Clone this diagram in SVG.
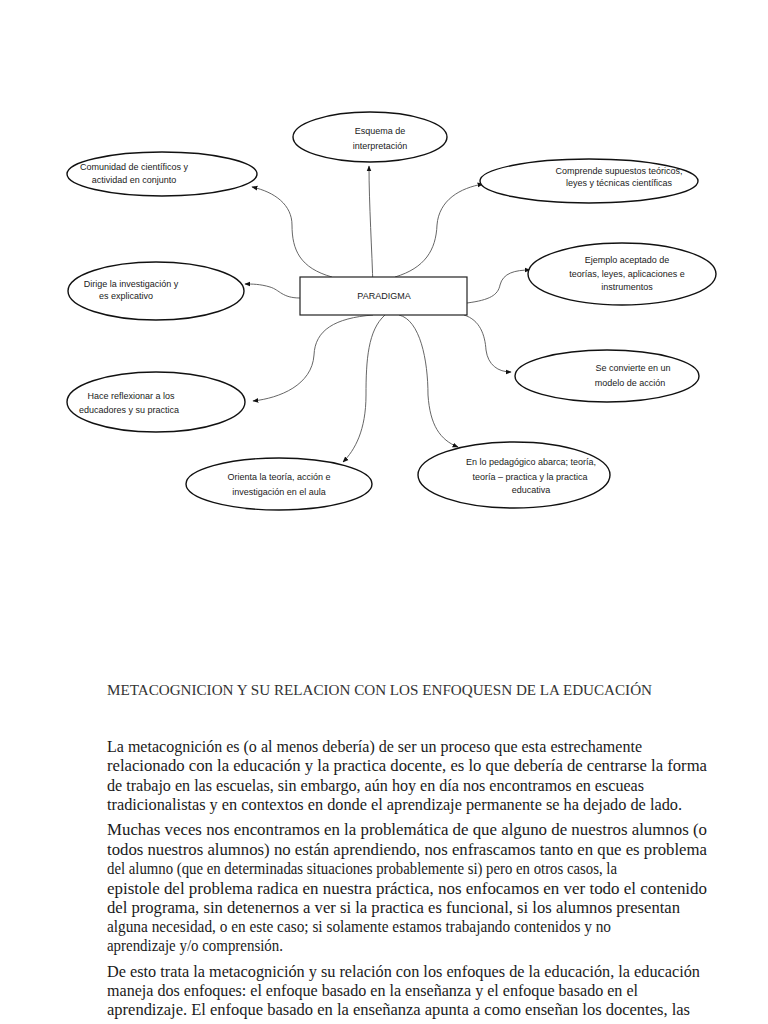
<svg xmlns="http://www.w3.org/2000/svg" width="768" height="1024" viewBox="0 0 768 1024">
<defs>
<marker id="ah" viewBox="0 0 10 10" refX="9" refY="5" markerWidth="6" markerHeight="6" orient="auto" markerUnits="userSpaceOnUse">
<path d="M0,1 L10,5 L0,9 z" fill="#111"/>
</marker>
<style>
.el{fill:#fff;stroke:#111;stroke-width:1.4}
.box{fill:#fff;stroke:#222;stroke-width:1.2}
.lbl{font-family:"Liberation Sans",Arial,sans-serif;font-size:9px;fill:#1a1a1a;text-anchor:middle}
.con{fill:none;stroke:#555;stroke-width:0.9;marker-end:url(#ah)}
.body{font-family:"Liberation Serif","Times New Roman",serif;font-size:16px;fill:#1a1a1a}
.title{font-family:"Liberation Serif","Times New Roman",serif;font-size:14.5px;fill:#333}
</style>
</defs>
<rect width="768" height="1024" fill="#fff"/>

<g id="connectors">
<path class="con" d="M332,277 C300,268 292,250 292,225 C292,205 275,192 252,187"/>
<path class="con" d="M373,288 C372,250 369,205 369,166"/>
<path class="con" d="M395,277 C425,268 436,250 437,225 C439,200 460,188 483,184"/>
<path class="con" d="M300,298 C282,298 280,290 270,287 C260,284 252,284 245,284"/>
<path class="con" d="M467,303 C490,300 498,295 500,285 C503,273 515,270 530,270"/>
<path class="con" d="M373,315 C335,318 315,330 314,355 C312,385 280,398 253,401"/>
<path class="con" d="M385,315 C368,330 366,360 366,395 C366,430 355,450 343,462"/>
<path class="con" d="M399,315 C420,320 428,360 428,395 C430,425 440,440 458,447"/>
<path class="con" d="M464,315 C480,320 485,335 486,350 C488,365 498,372 511,372"/>
</g>

<g id="paradigma">
<rect class="box" x="300" y="277" width="167" height="38"/>
<text class="lbl" x="384" y="299">PARADIGMA</text>
</g>

<g id="esquema">
<ellipse class="el" cx="370" cy="137" rx="77" ry="25"/>
<text class="lbl" x="380" y="134">Esquema de</text>
<text class="lbl" x="380" y="149">interpretación</text>
</g>

<g id="comunidad">
<ellipse class="el" cx="162" cy="174" rx="95" ry="22"/>
<text class="lbl" x="134" y="170">Comunidad de científicos y</text>
<text class="lbl" x="134" y="183">actividad en conjunto</text>
</g>

<g id="comprende">
<ellipse class="el" cx="589" cy="181" rx="109" ry="22"/>
<text class="lbl" x="619" y="174">Comprende supuestos teóricos,</text>
<text class="lbl" x="619" y="186">leyes y técnicas científicas</text>
</g>

<g id="dirige">
<ellipse class="el" cx="156" cy="291" rx="88" ry="29"/>
<text class="lbl" x="131" y="287">Dirige la investigación y</text>
<text class="lbl" x="126" y="299">es explicativo</text>
</g>

<g id="ejemplo">
<ellipse class="el" cx="622" cy="274" rx="94" ry="31"/>
<text class="lbl" x="627" y="263">Ejemplo aceptado de</text>
<text class="lbl" x="627" y="277">teorías, leyes, aplicaciones e</text>
<text class="lbl" x="627" y="290">instrumentos</text>
</g>

<g id="convierte">
<ellipse class="el" cx="607" cy="376" rx="92" ry="26"/>
<text class="lbl" x="633" y="371">Se convierte en un</text>
<text class="lbl" x="630" y="386">modelo de acción</text>
</g>

<g id="hace">
<ellipse class="el" cx="156" cy="402" rx="89" ry="30"/>
<text class="lbl" x="131" y="399">Hace reflexionar a los</text>
<text class="lbl" x="129" y="413">educadores y su practica</text>
</g>

<g id="orienta">
<ellipse class="el" cx="279" cy="484" rx="93" ry="26"/>
<text class="lbl" x="279" y="480">Orienta la teoría, acción e</text>
<text class="lbl" x="279" y="495">investigación en el aula</text>
</g>

<g id="pedagogico">
<ellipse class="el" cx="514" cy="475" rx="96" ry="33"/>
<text class="lbl" x="531" y="465">En lo pedagógico abarca; teoría,</text>
<text class="lbl" x="530" y="480">teoría – practica y la practica</text>
<text class="lbl" x="531" y="493">educativa</text>
</g>

<text class="title" x="107" y="695" textLength="545" lengthAdjust="spacingAndGlyphs">METACOGNICION Y SU RELACION CON LOS ENFOQUESN DE LA EDUCACIÓN</text>

<g class="body">
<text x="107" y="752" textLength="535" lengthAdjust="spacingAndGlyphs">La metacognición es (o al menos debería) de ser un proceso que esta estrechamente</text>
<text x="107" y="771" textLength="600" lengthAdjust="spacingAndGlyphs">relacionado con la educación y la practica docente, es lo que debería de centrarse la forma</text>
<text x="107" y="791" textLength="537" lengthAdjust="spacingAndGlyphs">de trabajo en las escuelas, sin embargo, aún hoy en día nos encontramos en escueas</text>
<text x="107" y="810" textLength="575" lengthAdjust="spacingAndGlyphs">tradicionalistas y en contextos en donde el aprendizaje permanente se ha dejado de lado.</text>

<text x="107" y="835" textLength="600" lengthAdjust="spacingAndGlyphs">Muchas veces nos encontramos en la problemática de que alguno de nuestros alumnos (o</text>
<text x="107" y="855" textLength="600" lengthAdjust="spacingAndGlyphs">todos nuestros alumnos) no están aprendiendo, nos enfrascamos tanto en que es problema</text>
<text x="107" y="874" textLength="510" lengthAdjust="spacingAndGlyphs">del alumno (que en determinadas situaciones probablemente si) pero en otros casos, la</text>
<text x="107" y="894" textLength="600" lengthAdjust="spacingAndGlyphs">epistole del problema radica en nuestra práctica, nos enfocamos en ver todo el contenido</text>
<text x="107" y="913" textLength="573" lengthAdjust="spacingAndGlyphs">del programa, sin detenernos a ver si la practica es funcional, si los alumnos presentan</text>
<text x="107" y="932" textLength="504" lengthAdjust="spacingAndGlyphs">alguna necesidad, o en este caso; si solamente estamos trabajando contenidos y no</text>
<text x="107" y="951" textLength="176" lengthAdjust="spacingAndGlyphs">aprendizaje y/o comprensión.</text>

<text x="107" y="977" textLength="593" lengthAdjust="spacingAndGlyphs">De esto trata la metacognición y su relación con los enfoques de la educación, la educación</text>
<text x="107" y="996" textLength="531" lengthAdjust="spacingAndGlyphs">maneja dos enfoques: el enfoque basado en la enseñanza y el enfoque basado en el</text>
<text x="107" y="1015" textLength="583" lengthAdjust="spacingAndGlyphs">aprendizaje. El enfoque basado en la enseñanza apunta a como enseñan los docentes, las</text>
</g>
</svg>
